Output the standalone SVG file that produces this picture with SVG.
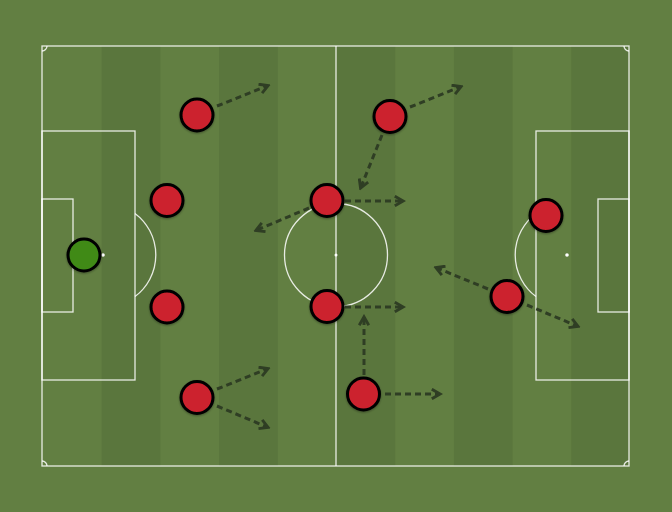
<svg xmlns="http://www.w3.org/2000/svg" width="672" height="512" viewBox="0 0 672 512">
  <style>
    .stripe { fill: #5a763d; }
    .line { fill: none; stroke: #ffffff; stroke-opacity: 0.85; stroke-width: 1.3; }
    .spot { fill: #ffffff; }
    .run { fill: none; stroke: #2f3e24; stroke-width: 3; stroke-dasharray: 6 4; marker-end: url(#head); }
    .player { fill: #cc212d; stroke: #000000; stroke-width: 3; filter: url(#shadow); }
    .keeper { fill: #3f8a17; stroke: #000000; stroke-width: 3; filter: url(#shadow); }
  </style>
  <defs>
    <marker id="head" viewBox="0 0 10 10" refX="7" refY="5" markerWidth="4" markerHeight="4" orient="auto" markerUnits="strokeWidth">
      <path d="M1,1 L8,5 L1,9" fill="none" stroke="#2f3e24" stroke-width="2.4" stroke-linejoin="miter"/>
    </marker>
    <filter id="shadow" x="-30%" y="-30%" width="160%" height="160%">
      <feDropShadow dx="0" dy="1" stdDeviation="1.2" flood-color="#000000" flood-opacity="0.35"/>
    </filter>
  </defs>

  <rect x="0" y="0" width="672" height="512" fill="#627f42"/>

  <g id="pitch">
    <rect class="stripe" x="101.7" y="46" width="58.7" height="420"/>
    <rect class="stripe" x="219.1" y="46" width="58.7" height="420"/>
    <rect class="stripe" x="336.5" y="46" width="58.7" height="420"/>
    <rect class="stripe" x="453.9" y="46" width="58.7" height="420"/>
    <rect class="stripe" x="571.3" y="46" width="57.7" height="420"/>

    <rect class="line" x="42" y="46" width="587" height="420"/>
    <line class="line" x1="336" y1="46" x2="336" y2="466"/>
    <circle class="line" cx="336" cy="255" r="51.5"/>
    <circle class="spot" cx="336" cy="255" r="1.5"/>

    <rect class="line" x="42" y="131" width="93" height="249"/>
    <rect class="line" x="42" y="199" width="31" height="113"/>
    <circle class="spot" cx="103" cy="255" r="1.8"/>
    <path class="line" d="M135,213.4 A52,52 0 0 1 135,296.6"/>

    <rect class="line" x="536" y="131" width="93" height="249"/>
    <rect class="line" x="598" y="199" width="31" height="113"/>
    <circle class="spot" cx="567" cy="255" r="1.8"/>
    <path class="line" d="M536,213.4 A52,52 0 0 0 536,296.6"/>

    <path class="line" d="M42,51 A5,5 0 0 0 47,46"/>
    <path class="line" d="M624,46 A5,5 0 0 0 629,51"/>
    <path class="line" d="M42,461 A5,5 0 0 1 47,466"/>
    <path class="line" d="M624,466 A5,5 0 0 1 629,461"/>
  </g>

  <g id="connectors">
    <line class="run" x1="217" y1="106" x2="267" y2="86"/>
    <line class="run" x1="217" y1="389" x2="267" y2="369"/>
    <line class="run" x1="217" y1="406" x2="267" y2="427"/>
    <line class="run" x1="410" y1="107" x2="460" y2="87"/>
    <line class="run" x1="382" y1="135" x2="361" y2="187"/>
    <line class="run" x1="345" y1="201" x2="402" y2="201"/>
    <line class="run" x1="309" y1="208" x2="257" y2="230"/>
    <line class="run" x1="345" y1="307" x2="402" y2="307"/>
    <line class="run" x1="364" y1="375" x2="364" y2="318"/>
    <line class="run" x1="385" y1="394" x2="439" y2="394"/>
    <line class="run" x1="488" y1="289" x2="437" y2="268"/>
    <line class="run" x1="527" y1="305" x2="577" y2="326"/>
  </g>

  <g id="gk"><circle class="keeper" cx="84" cy="255" r="16"/></g>
  <g id="p1"><circle class="player" cx="197" cy="115" r="16"/></g>
  <g id="p2"><circle class="player" cx="167" cy="200.5" r="16"/></g>
  <g id="p3"><circle class="player" cx="167" cy="307" r="16"/></g>
  <g id="p4"><circle class="player" cx="197" cy="397.5" r="16"/></g>
  <g id="p5"><circle class="player" cx="327" cy="200.5" r="16"/></g>
  <g id="p6"><circle class="player" cx="327" cy="306.5" r="16"/></g>
  <g id="p7"><circle class="player" cx="390" cy="116.5" r="16"/></g>
  <g id="p8"><circle class="player" cx="363.5" cy="394" r="16"/></g>
  <g id="p9"><circle class="player" cx="546" cy="215.5" r="16"/></g>
  <g id="p10"><circle class="player" cx="507" cy="296.5" r="16"/></g>
</svg>
